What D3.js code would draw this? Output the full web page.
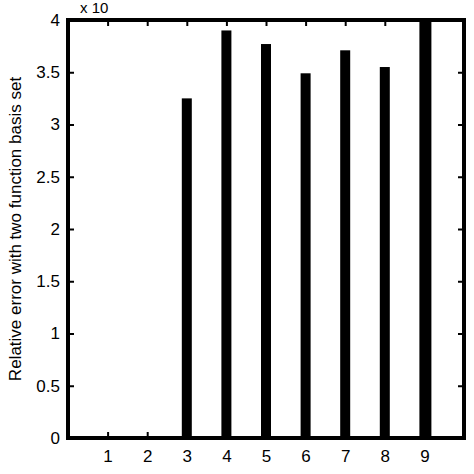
<!DOCTYPE html><html><head><script src="https://d3js.org/d3.v7.min.js"></script>
<style>body{margin:0;background:#fff}</style></head><body><svg id="c" width="474" height="474"></svg>
<script>
const categories=[1,2,3,4,5,6,7,8,9];
const values=[0,0,3.25,3.9,3.77,3.49,3.71,3.55,4.0];
const yTicks=[0,0.5,1,1.5,2,2.5,3,3.5,4];
const svg=d3.select("#c");
const L=68,R=464,T=20,B=438;
const x=d3.scaleLinear().domain([0,10]).range([L,R]);
const y=d3.scaleLinear().domain([0,4]).range([B,T]);
const f="Liberation Sans, Arial, sans-serif";
svg.selectAll("rect.bar").data(values).enter().append("rect")
 .attr("x",(d,i)=>x(categories[i])-5).attr("width",(d,i)=>i===8?12:10)
 .attr("y",d=>y(d)).attr("height",d=>B-y(d)).attr("fill","#000");
svg.append("rect").attr("x",L).attr("y",T).attr("width",R-L).attr("height",B-T)
 .attr("fill","none").attr("stroke","#000").attr("stroke-width",4);
svg.append("g").attr("transform",`translate(${L},0)`).call(d3.axisLeft(y).tickValues(yTicks).tickFormat(d3.format("")).tickSize(-6).tickPadding(8));
svg.append("g").attr("transform",`translate(0,${B})`).call(d3.axisBottom(x).tickValues(categories).tickSize(-6).tickPadding(12));
svg.append("g").attr("transform",`translate(0,${T})`).call(d3.axisTop(x).tickValues(categories).tickSize(-6).tickFormat(""));
svg.append("g").attr("transform",`translate(${R},0)`).call(d3.axisRight(y).tickValues(yTicks).tickSize(-6).tickFormat(""));
svg.selectAll(".domain").remove();
svg.selectAll(".tick line").attr("stroke","#000").attr("stroke-width",2);
svg.selectAll(".tick text").attr("font-family",f).attr("font-size",17).attr("fill","#000");
svg.append("text").attr("x",80).attr("y",13).attr("font-family",f).attr("font-size",15).text("x 10");
svg.append("text").attr("transform",`translate(8,${(T+B)/2}) rotate(-90)`).attr("text-anchor","middle").attr("dy","0.75em")
 .attr("font-family",f).attr("font-size",17).text("Relative error with two function basis set");
</script></body></html>
